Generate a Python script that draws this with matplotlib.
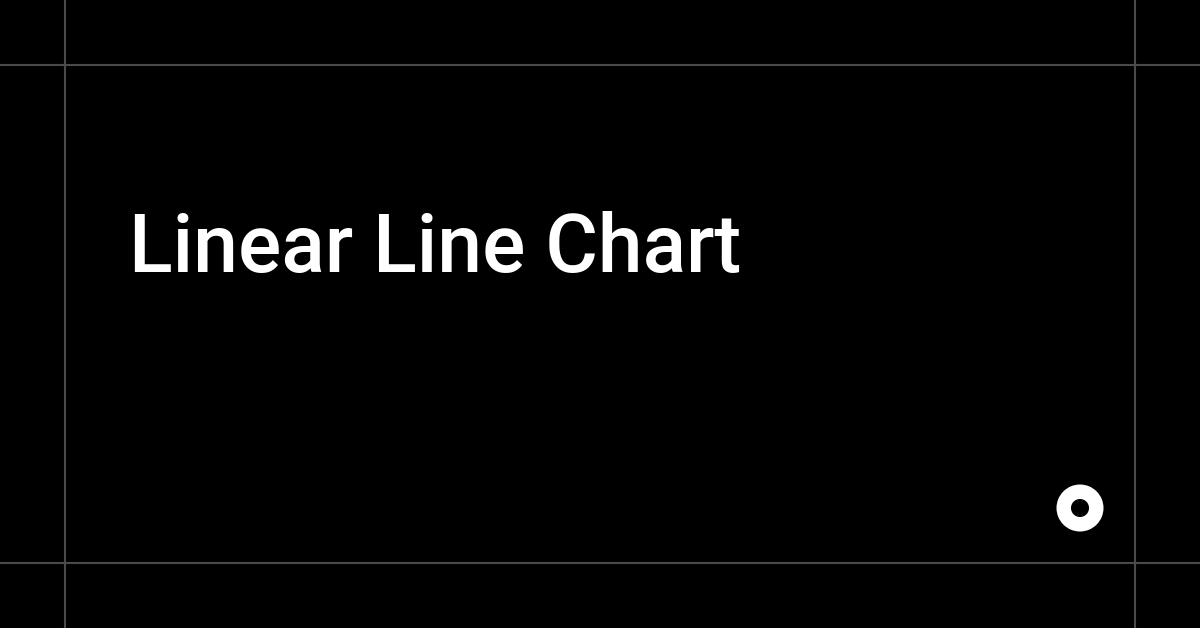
import matplotlib.pyplot as plt
from matplotlib.patches import Wedge

# card content
title = "Linear Line Chart"
guide_x = [65, 1135]
guide_y = [65, 563]
ring_center = (1080, 508)
ring_radius = (9, 23.5)

fig = plt.figure(figsize=(12, 6.28), dpi=100, facecolor="black")
ax = fig.add_axes([0, 0, 1, 1])
ax.set_xlim(0, 1200)
ax.set_ylim(628, 0)
ax.set_facecolor("black")
ax.axis("off")

for x in guide_x:
    ax.axvline(x, color="#4a4a4a", lw=1.5)
for y in guide_y:
    ax.axhline(y, color="#4a4a4a", lw=1.5)

ax.text(129, 272, title, color="white", fontsize=58, fontfamily="Roboto",
        fontweight="medium", ha="left", va="baseline")

r_in, r_out = ring_radius
ax.add_patch(Wedge(ring_center, r_out, 0, 360, width=r_out - r_in,
                   facecolor="white", edgecolor="none"))

fig.savefig("out.png", dpi=100, facecolor="black")
